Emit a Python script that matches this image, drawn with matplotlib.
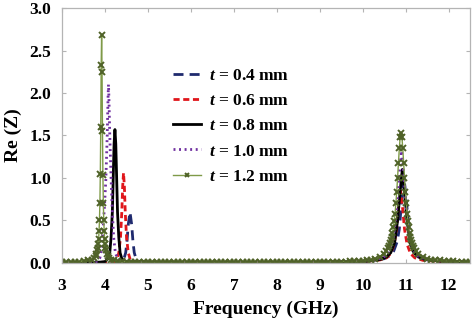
import numpy as np
import matplotlib
matplotlib.use("Agg")
import matplotlib.pyplot as plt

plt.rcParams['font.family'] = ['Liberation Serif', 'DejaVu Serif']
plt.rcParams['font.weight'] = 'bold'
plt.rcParams['mathtext.fontset'] = 'custom'
plt.rcParams['mathtext.it'] = 'Liberation Serif:italic:bold'
plt.rcParams['mathtext.rm'] = 'Liberation Serif:bold'

# Re(Z) traces (frequency in GHz) for each thickness t
f04 = [3.0, 3.8, 4.2, 4.38, 4.44, 4.48, 4.51, 4.54, 4.58, 4.62, 4.65, 4.68, 4.72, 4.80,
       5.2, 8.0, 10.0, 10.3, 10.5, 10.62, 10.72, 10.8, 10.85, 10.9, 10.96, 11.02, 11.07,
       11.12, 11.2, 11.3, 11.42, 11.6, 11.9, 12.5]
z04 = [0.0, 0.005, 0.01, 0.015, 0.05, 0.12, 0.25, 0.45, 0.60, 0.45, 0.25, 0.12, 0.05, 0.015,
       0.008, 0.005, 0.015, 0.03, 0.05, 0.08, 0.14, 0.25, 0.40, 0.70, 1.00, 0.70, 0.40,
       0.25, 0.14, 0.08, 0.05, 0.03, 0.015, 0.01]

f06 = [3.0, 3.8, 4.1, 4.22, 4.28, 4.32, 4.36, 4.39, 4.41, 4.43, 4.45, 4.47, 4.50, 4.54,
       4.58, 4.64, 5.0, 8.5, 10.0, 10.4, 10.55, 10.65, 10.73, 10.79, 10.84, 10.88, 10.92,
       10.97, 11.03, 11.11, 11.21, 11.4, 12.0, 12.5]
z06 = [0.0, 0.005, 0.01, 0.015, 0.05, 0.12, 0.30, 0.60, 0.90, 1.06, 0.90, 0.60, 0.30, 0.12,
       0.05, 0.015, 0.008, 0.005, 0.015, 0.035, 0.06, 0.11, 0.22, 0.40, 0.68, 0.85, 0.68,
       0.40, 0.22, 0.11, 0.06, 0.03, 0.012, 0.008]

f08 = [3.0, 3.6, 3.9, 4.0, 4.07, 4.11, 4.14, 4.17, 4.19, 4.21, 4.23, 4.25, 4.27, 4.29,
       4.32, 4.35, 4.39, 4.46, 5.0, 8.5, 10.0, 10.4, 10.55, 10.65, 10.74, 10.81, 10.87,
       10.92, 10.97, 11.03, 11.1, 11.19, 11.29, 11.45, 11.9, 12.5]
z08 = [0.0, 0.005, 0.01, 0.015, 0.05, 0.12, 0.30, 0.60, 1.00, 1.40, 1.57, 1.40, 1.00, 0.60,
       0.30, 0.12, 0.05, 0.015, 0.008, 0.005, 0.015, 0.04, 0.07, 0.12, 0.24, 0.50, 0.85,
       1.10, 0.85, 0.50, 0.24, 0.12, 0.07, 0.04, 0.015, 0.01]

f10 = [3.0, 3.5, 3.80, 3.88, 3.93, 3.96, 3.99, 4.02, 4.05, 4.07, 4.08, 4.09, 4.11, 4.14,
       4.17, 4.20, 4.24, 4.30, 4.40, 5.0, 8.5, 10.0, 10.4, 10.52, 10.62, 10.71, 10.78,
       10.84, 10.9, 10.96, 11.02, 11.09, 11.18, 11.28, 11.5, 12.0, 12.5]
z10 = [0.0, 0.005, 0.015, 0.06, 0.20, 0.45, 0.70, 1.00, 1.50, 1.95, 2.10, 1.95, 1.50, 1.00,
       0.60, 0.30, 0.12, 0.04, 0.015, 0.008, 0.005, 0.02, 0.05, 0.08, 0.14, 0.28, 0.60,
       1.00, 1.32, 1.00, 0.60, 0.28, 0.14, 0.08, 0.035, 0.015, 0.01]

f12 = [3.0, 3.1, 3.2, 3.3, 3.4, 3.5, 3.6, 3.7, 3.75, 3.78, 3.80, 3.82, 3.83, 3.84,
       3.85, 3.86, 3.87, 3.88, 3.89, 3.90, 3.91, 3.92, 3.93, 3.94, 3.95, 3.96, 3.97,
       3.98, 3.99, 4.00, 4.01, 4.02, 4.04, 4.06, 4.09, 4.14, 4.2, 4.3,
       4.4, 4.5, 4.6, 4.7, 4.8, 4.9, 5.0, 5.1, 5.2, 5.3, 5.4, 5.5, 5.6, 5.7, 5.8, 5.9,
       6.0, 6.1, 6.2, 6.3, 6.4, 6.5, 6.6, 6.7, 6.8, 6.9, 7.0, 7.1, 7.2, 7.3, 7.4, 7.5,
       7.6, 7.7, 7.8, 7.9, 8.0, 8.1, 8.2, 8.3, 8.4, 8.5, 8.6, 8.7, 8.8, 8.9, 9.0, 9.1,
       9.2, 9.3, 9.4, 9.5, 9.6, 9.7, 9.8, 9.9, 10.0, 10.1, 10.2, 10.29, 10.39, 10.49,
       10.54, 10.59, 10.61, 10.63, 10.65, 10.67, 10.69, 10.71, 10.73, 10.75, 10.77,
       10.79, 10.81, 10.83, 10.85, 10.87, 10.89, 10.91, 10.93, 10.95, 10.97, 10.99,
       11.01, 11.03, 11.05, 11.07, 11.09, 11.11, 11.13, 11.15, 11.17, 11.19, 11.24,
       11.29, 11.39, 11.49, 11.59, 11.69, 11.79, 11.89, 12.0, 12.1, 12.2, 12.3, 12.4, 12.5]
z12 = [0.01, 0.01, 0.01, 0.01, 0.015, 0.02, 0.03, 0.04, 0.06, 0.08, 0.10, 0.15, 0.18, 0.22,
       0.28, 0.37, 0.50, 0.71, 1.05, 1.60, 2.33, 2.68, 2.25, 1.55, 1.04, 0.70, 0.50,
       0.37, 0.28, 0.22, 0.18, 0.15, 0.10, 0.08, 0.06, 0.04, 0.03, 0.02,
       0.02, 0.015, 0.012, 0.01, 0.01, 0.01, 0.01, 0.01, 0.01, 0.01, 0.01, 0.01, 0.01, 0.01, 0.01, 0.01,
       0.01, 0.01, 0.01, 0.01, 0.01, 0.01, 0.01, 0.01, 0.01, 0.01, 0.01, 0.01, 0.01, 0.01, 0.01, 0.01,
       0.01, 0.01, 0.01, 0.01, 0.01, 0.01, 0.01, 0.01, 0.01, 0.01, 0.01, 0.01, 0.01, 0.01, 0.01, 0.012,
       0.012, 0.012, 0.012, 0.012, 0.015, 0.017, 0.02, 0.022, 0.025, 0.03, 0.04, 0.05, 0.07, 0.11,
       0.14, 0.18, 0.20, 0.23, 0.27, 0.31, 0.35, 0.42, 0.49, 0.58, 0.70,
       0.84, 1.00, 1.18, 1.35, 1.48, 1.53, 1.48, 1.35, 1.18, 1.00, 0.84,
       0.70, 0.58, 0.49, 0.42, 0.35, 0.31, 0.27, 0.23, 0.20, 0.18, 0.14,
       0.11, 0.07, 0.05, 0.04, 0.035, 0.03, 0.025, 0.02, 0.02, 0.015, 0.015, 0.012, 0.012]

labels = [r'$t$ = 0.4 mm', r'$t$ = 0.6 mm', r'$t$ = 0.8 mm', r'$t$ = 1.0 mm', r'$t$ = 1.2 mm']
xticks = [3, 4, 5, 6, 7, 8, 9, 10, 11, 12]
yticks = [0.0, 0.5, 1.0, 1.5, 2.0, 2.5, 3.0]

fig = plt.figure(figsize=(4.74, 3.23), dpi=100)
ax = fig.add_axes([0.131, 0.186, 0.861, 0.789])

ax.plot(f04, z04, color='#1f2a6e', lw=2.0, dashes=(3.6, 2.2), label=labels[0])
ax.plot(f06, z06, color='#e0161b', lw=2.0, dashes=(2.2, 1.3), label=labels[1])
ax.plot(f08, z08, color='black', lw=2.0, label=labels[2])
ax.plot(f10, z10, color='#7030a0', lw=2.0, dashes=(0.7, 1.3), label=labels[3])
ax.plot(f12, z12, color='#7f9a48', lw=1.0, marker='x', ms=4.8, mew=1.4,
        mec='#4f6228', label=labels[4])

ax.set_xlim(3, 12.5)
ax.set_ylim(0, 3)
ax.set_xticks(xticks)
ax.set_yticks(yticks)
ax.set_yticklabels([f'{v:.1f}' for v in yticks])
for s in ax.spines.values():
    s.set_color('#b4b4b4')
    s.set_linewidth(0.9)
ax.tick_params(direction='in', length=3, width=0.8, color='#b4b4b4',
               top=True, right=True, labelsize=12.5)
ax.tick_params(axis='y', pad=8)
ax.tick_params(axis='x', pad=11)

ax.set_xlabel('Frequency (GHz)', fontsize=14, fontweight='bold', labelpad=5)
ax.set_ylabel('Re (Z)', fontsize=14, fontweight='bold', labelpad=5)

ax.legend(loc='upper left', bbox_to_anchor=(0.365, 0.79), bbox_transform=fig.transFigure,
          frameon=False, fontsize=12.5, handlelength=1.6, handletextpad=0.5,
          labelspacing=0.52, borderpad=0, borderaxespad=0, markerscale=0.7)

fig.savefig('out.png', dpi=100)
